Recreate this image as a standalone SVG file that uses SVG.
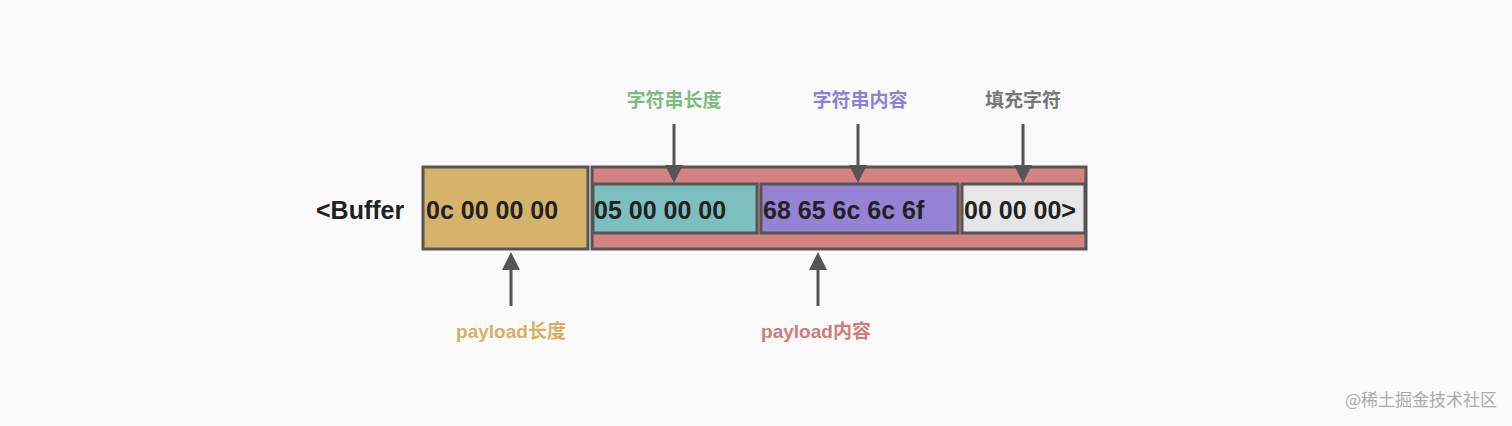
<svg xmlns="http://www.w3.org/2000/svg" width="1512" height="426" viewBox="0 0 1512 426">
<style>
.b{stroke:#555;stroke-width:3}
.t{font-family:"Liberation Sans","Noto Sans CJK SC",sans-serif;font-weight:bold;font-size:25px;fill:#222}
.l{font-family:"Liberation Sans","Noto Sans CJK SC",sans-serif;font-weight:bold;font-size:19px;text-anchor:middle}
.c{stroke:#555;stroke-width:3;fill:none;marker-end:url(#a)}
</style>
<defs><marker id="a" markerWidth="6" markerHeight="6" refX="4" refY="3" orient="auto"><path d="M0,0L6,3L0,6z" fill="#555"/></marker></defs>
<rect width="1512" height="426" fill="#fafafa"/>
<g id="payloadLen"><rect class="b" x="423" y="167" width="165" height="82" fill="#d6b36a"/></g>
<g id="payload"><rect class="b" x="592" y="167" width="494" height="82" fill="#d58282"/></g>
<g id="strLen"><rect class="b" x="593" y="184" width="164" height="49" fill="#7cbfbe"/></g>
<g id="strContent"><rect class="b" x="761" y="184" width="197" height="49" fill="#9583d6"/></g>
<g id="pad"><rect class="b" x="962" y="184" width="123" height="49" fill="#e6e6e6"/></g>
<text class="t" x="316" y="219">&lt;Buffer</text>
<text class="t" x="426" y="219">0c 00 00 00</text>
<text class="t" x="594" y="219">05 00 00 00</text>
<text class="t" x="763" y="219">68 65 6c 6c 6f</text>
<text class="t" x="964" y="219">00 00 00&gt;</text>
<g id="connectors">
<line class="c" x1="674" y1="124" x2="674" y2="177"/>
<line class="c" x1="858" y1="124" x2="858" y2="177"/>
<line class="c" x1="1023" y1="124" x2="1023" y2="177"/>
<line class="c" x1="511" y1="306" x2="511" y2="258"/>
<line class="c" x1="818" y1="306" x2="818" y2="258"/>
</g>
<text class="l" x="674" y="107" fill="#7dbb7e">字符串长度</text>
<text class="l" x="860" y="107" fill="#8f7fd6">字符串内容</text>
<text class="l" x="1023" y="107" fill="#777">填充字符</text>
<text class="l" x="511" y="338" fill="#d6b060">payload长度</text>
<text class="l" x="816" y="338" fill="#d07a7a">payload内容</text>
<text x="1497" y="406" font-family="'Noto Sans CJK SC',sans-serif" font-size="17" fill="#aaa" text-anchor="end">@稀土掘金技术社区</text>
</svg>
